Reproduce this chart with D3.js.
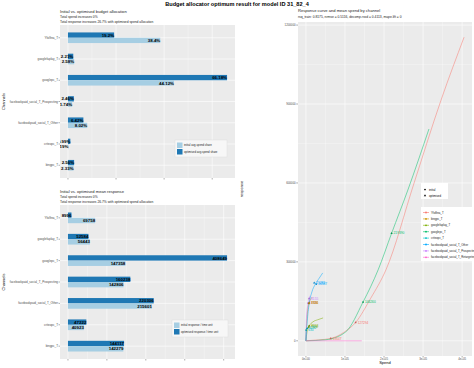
<!DOCTYPE html>
<html>
<head>
<meta charset="utf-8">
<script src="https://cdn.jsdelivr.net/npm/d3@7"></script>
<style>
  body { margin: 0; background: #fff; }
  text { font-family: "Liberation Sans", Arial, sans-serif; }
</style>
</head>
<body>
<svg id="chart" width="474" height="368"></svg>
<script>
// Channels of the two bar panels, top to bottom
var channels = ['Yfolfina_T', 'googlefaplay_T', 'googlepc_T', 'facebookpaid_social_T_Prospecting',
  'facebookpaid_social_T_Other', 'criteopc_T', 'bingpc_T'];
// Spend share (%)
var shareInitial = [38.4, 2.58, 44.12, 1.74, 8.02, 0.19, 2.33];
var shareOptimised = [19.2, 2.21, 66.18, 2.46, 6.42, 0.99, 2.56];
// Mean response per time unit
var respInitial = [69758, 56443, 147358, 142806, 215601, 40923, 142279];
var respOptimised = [8996, 52584, 408649, 160238, 220306, 47222, 144117];
// Mean spend per channel (response curve points)
var spendInitial = [127294, 8553, 146260, 5768, 26587, 630, 7724];
var spendOptimised = [63647, 7326, 219390, 8155, 21282, 3282, 8486];

// Response curve channels, legend order, and colours
var curveNames = ['Yfolfina_T', 'bingpc_T', 'googlefaplay_T', 'googlepc_T', 'criteopc_T',
  'facebookpaid_social_T_Other', 'facebookpaid_social_T_Prospecting', 'facebookpaid_social_T_Retargeting'];
var curveColors = ['#F8766D', '#CD9600', '#7CAE00', '#00BE67', '#00BFC4', '#00A9FF', '#C77CFF', '#FF61CC'];

// Response curves: [spend, response]
var curveYfolfina = [[0, 0], [33000, 3800], [63647, 8996], [97000, 32000], [127294, 69758], [166000, 162000],
  [205000, 270000], [277000, 600000], [346000, 915000], [405000, 1154000]];
var curveBingpc = [[0, 0], [1500, 52000], [3500, 100000], [7724, 142279], [12000, 158000], [16000, 166000]];
var curveGooglefaplay = [[0, 0], [2500, 30000], [8553, 56443], [18000, 72000], [30000, 80000], [44000, 87000]];
var curveGooglepc = [[0, 0], [51000, 4000], [102000, 34000], [146260, 147358], [185000, 270000],
  [219390, 408649], [261000, 573000], [315000, 805000]];
var curveCriteopc = [[0, 0], [300, 25000], [630, 40923], [3282, 47222], [6000, 50000]];
var curveOther = [[0, 0], [2600, 60000], [7700, 135000], [15400, 186000], [24000, 215000],
  [34000, 238000], [43000, 258000]];
var curveProspecting = [[0, 0], [1500, 90000], [5768, 142806], [8155, 160238], [11000, 172000]];
var curveRetargeting = [[0, 0], [143000, 0]];
var curves = [curveYfolfina, curveBingpc, curveGooglefaplay, curveGooglepc, curveCriteopc,
  curveOther, curveProspecting, curveRetargeting];

// Tick labels
var respTicks = [0, 300000, 600000, 900000, 1200000];
var spendTicks = [0, 100000, 200000, 300000, 400000];
var spendTickLabels = ['0e+00', '1e+05', '2e+05', '3e+05', '4e+05'];

var LIGHT = '#A6CEE3';
var DARK = '#1F78B4';
var PANEL = '#EBEBEB';

var svg = d3.select('#chart');
svg.append('rect').attr('width', 474).attr('height', 368).attr('fill', '#fff');

svg.append('text').attr('x', 237).attr('y', 6).attr('text-anchor', 'middle')
  .attr('font-size', 5.6).attr('font-weight', 'bold').text('Budget allocator optimum result for model ID 31_82_4');

// Expand a [min, max] domain by 5% like ggplot does
function expand(lo, hi) {
  var pad = (hi - lo) * 0.05;
  return [lo - pad, hi + pad];
}

/**
 * Draws one of the dodged bar panels on the left
 */
function barPanel(box, titles, valInit, valOpt, fmt, legendLabels, legendBox) {
  var g = svg.append('g');
  g.append('text').attr('x', box.x0).attr('y', box.y0 - 12).attr('font-size', 4.1).attr('fill', '#222').text(titles[0]);
  g.append('text').attr('x', box.x0).attr('y', box.y0 - 7).attr('font-size', 3.3).attr('fill', '#222').text(titles[1]);
  g.append('text').attr('x', box.x0).attr('y', box.y0 - 2.5).attr('font-size', 3.3).attr('fill', '#222').text(titles[2]);

  var x = d3.scaleLinear().domain(expand(0, d3.max(valInit.concat(valOpt)))).range([box.x0, box.x1]);
  var y = d3.scalePoint().domain(channels).range([box.y0, box.y1]).padding(0.6);
  var step = y.step();

  g.append('rect').attr('x', box.x0).attr('y', box.y0).attr('width', box.x1 - box.x0)
    .attr('height', box.y1 - box.y0).attr('fill', PANEL);

  var ticks = x.ticks(4);
  var tickStep = ticks[1] - ticks[0];
  var minor = ticks.map(function (t) { return t + tickStep / 2; })
    .filter(function (t) { return x(t) < box.x1; });
  g.selectAll('.minor').data(minor).enter().append('line')
    .attr('x1', x).attr('x2', x).attr('y1', box.y0).attr('y2', box.y1)
    .attr('stroke', '#fff').attr('stroke-width', 0.3);
  g.selectAll('.major').data(ticks).enter().append('line')
    .attr('x1', x).attr('x2', x).attr('y1', box.y0).attr('y2', box.y1)
    .attr('stroke', '#fff').attr('stroke-width', 0.6);
  g.selectAll('.hgrid').data(channels).enter().append('line')
    .attr('x1', box.x0).attr('x2', box.x1).attr('y1', y).attr('y2', y)
    .attr('stroke', '#fff').attr('stroke-width', 0.6);
  g.selectAll('.xtick').data(ticks).enter().append('line')
    .attr('x1', x).attr('x2', x).attr('y1', box.y1).attr('y2', box.y1 + 1.5)
    .attr('stroke', '#333').attr('stroke-width', 0.4);

  var clipId = 'clip' + box.y0;
  svg.append('clipPath').attr('id', clipId).append('rect')
    .attr('x', box.x0).attr('y', box.y0).attr('width', box.x1 - box.x0).attr('height', box.y1 - box.y0);
  var inner = g.append('g').attr('clip-path', 'url(#' + clipId + ')');

  var bh = step * 0.25;
  var rows = channels.map(function (c, i) { return { c: c, init: valInit[i], opt: valOpt[i] }; });

  inner.selectAll('.opt').data(rows).enter().append('rect')
    .attr('x', x(0)).attr('y', function (d) { return y(d.c) - bh; })
    .attr('width', function (d) { return x(d.opt) - x(0); }).attr('height', bh).attr('fill', DARK);
  inner.selectAll('.init').data(rows).enter().append('rect')
    .attr('x', x(0)).attr('y', function (d) { return y(d.c); })
    .attr('width', function (d) { return x(d.init) - x(0); }).attr('height', bh).attr('fill', LIGHT);

  inner.selectAll('.optlab').data(rows).enter().append('text')
    .attr('x', function (d) { return x(d.opt); }).attr('y', function (d) { return y(d.c) - bh / 2 + 1.6; })
    .attr('text-anchor', 'end').attr('font-size', 4.4).attr('font-weight', 'bold')
    .text(function (d) { return fmt(d.opt); });
  inner.selectAll('.initlab').data(rows).enter().append('text')
    .attr('x', function (d) { return x(d.init); }).attr('y', function (d) { return y(d.c) + bh / 2 + 1.6; })
    .attr('text-anchor', 'end').attr('font-size', 4.4).attr('font-weight', 'bold')
    .text(function (d) { return fmt(d.init); });

  g.selectAll('.ylab').data(channels).enter().append('text')
    .attr('x', box.x0 - 2).attr('y', function (d) { return y(d) + 1; })
    .attr('text-anchor', 'end').attr('font-size', 3).attr('fill', '#4D4D4D').text(function (d) { return d; });
  g.selectAll('.ytick').data(channels).enter().append('line')
    .attr('x1', box.x0 - 1.5).attr('x2', box.x0).attr('y1', y).attr('y2', y)
    .attr('stroke', '#333').attr('stroke-width', 0.4);

  g.append('text').attr('transform', 'translate(5,' + ((box.y0 + box.y1) / 2) + ') rotate(-90)')
    .attr('text-anchor', 'middle').attr('font-size', 4).text('Channels');

  // Legend
  var lg = g.append('g').attr('transform', 'translate(' + legendBox.x + ',' + legendBox.y + ')');
  lg.append('rect').attr('width', legendBox.w).attr('height', 17).attr('fill', '#F7F7F7')
    .attr('stroke', '#D9D9D9').attr('stroke-width', 0.4);
  [LIGHT, DARK].forEach(function (col, i) {
    lg.append('rect').attr('x', 2).attr('y', 2.5 + i * 6.5).attr('width', 5.5).attr('height', 5.5).attr('fill', col);
    lg.append('text').attr('x', 9).attr('y', 6.3 + i * 6.5).attr('font-size', 2.8).attr('fill', '#222')
      .text(legendLabels[i]);
  });
}

barPanel({ x0: 60, x1: 235, y0: 25, y1: 178 },
  ['Initial vs. optimised budget allocation', 'Total spend increases 0%',
    'Total response increases 26.7% with optimised spend allocation'],
  shareInitial, shareOptimised, function (v) { return v + '%'; },
  ['initial avg.spend share', 'optimised avg.spend share'], { x: 175, y: 140, w: 52 });

barPanel({ x0: 60, x1: 235, y0: 205, y1: 359 },
  ['Initial vs. optimised mean response', 'Total spend increases 0%',
    'Total response increases 26.7% with optimised spend allocation'],
  respInitial, respOptimised, function (v) { return String(v); },
  ['initial response / time unit', 'optimised response / time unit'], { x: 172, y: 320, w: 56 });

// Response curve panel
(function () {
  var box = { x0: 298, x1: 472, y0: 22, y1: 356 };
  var g = svg.append('g');
  g.append('text').attr('x', box.x0).attr('y', 12).attr('font-size', 4.1).attr('fill', '#222')
    .text('Response curve and mean spend by channel');
  g.append('text').attr('x', box.x0).attr('y', 17.5).attr('font-size', 3.3).attr('fill', '#222')
    .text('rsq_train: 0.8175, nrmse = 0.5116, decomp.rssd = 0.4113, mape.lift = 0');

  var allPts = d3.merge(curves);
  var x = d3.scaleLinear().domain(expand(0, d3.max(allPts, function (d) { return d[0]; }))).range([box.x0, box.x1]);
  var y = d3.scaleLinear().domain(expand(0, d3.max(allPts, function (d) { return d[1]; }))).range([box.y1, box.y0]);

  g.append('rect').attr('x', box.x0).attr('y', box.y0).attr('width', box.x1 - box.x0)
    .attr('height', box.y1 - box.y0).attr('fill', PANEL);

  var xMinor = spendTicks.map(function (t) { return t + 50000; }).filter(function (t) { return x(t) < box.x1; });
  xMinor.unshift(-50000);
  xMinor = xMinor.filter(function (t) { return x(t) > box.x0; });
  var yMinor = respTicks.map(function (t) { return t + 150000; }).filter(function (t) { return y(t) > box.y0; });

  g.selectAll('.vminor').data(xMinor).enter().append('line')
    .attr('x1', x).attr('x2', x).attr('y1', box.y0).attr('y2', box.y1).attr('stroke', '#fff').attr('stroke-width', 0.3);
  g.selectAll('.hminor').data(yMinor).enter().append('line')
    .attr('y1', y).attr('y2', y).attr('x1', box.x0).attr('x2', box.x1).attr('stroke', '#fff').attr('stroke-width', 0.3);
  g.selectAll('.vmajor').data(spendTicks).enter().append('line')
    .attr('x1', x).attr('x2', x).attr('y1', box.y0).attr('y2', box.y1).attr('stroke', '#fff').attr('stroke-width', 0.6);
  g.selectAll('.hmajor').data(respTicks).enter().append('line')
    .attr('y1', y).attr('y2', y).attr('x1', box.x0).attr('x2', box.x1).attr('stroke', '#fff').attr('stroke-width', 0.6);

  // Axes
  g.selectAll('.ylab').data(respTicks).enter().append('text')
    .attr('x', box.x0 - 2.5).attr('y', function (d) { return y(d) + 1; }).attr('text-anchor', 'end')
    .attr('font-size', 2.8).attr('fill', '#4D4D4D').text(function (d) { return d; });
  g.selectAll('.ytk').data(respTicks).enter().append('line')
    .attr('x1', box.x0 - 1.8).attr('x2', box.x0).attr('y1', y).attr('y2', y).attr('stroke', '#333').attr('stroke-width', 0.4);
  g.selectAll('.xlab').data(spendTicks).enter().append('text')
    .attr('x', x).attr('y', box.y1 + 4.2).attr('text-anchor', 'middle')
    .attr('font-size', 2.8).attr('fill', '#4D4D4D').text(function (d, i) { return spendTickLabels[i]; });
  g.selectAll('.xtk').data(spendTicks).enter().append('line')
    .attr('x1', x).attr('x2', x).attr('y1', box.y1).attr('y2', box.y1 + 1.5).attr('stroke', '#333').attr('stroke-width', 0.4);
  g.append('text').attr('x', (box.x0 + box.x1) / 2).attr('y', 364).attr('text-anchor', 'middle')
    .attr('font-size', 4).text('Spend');
  g.append('text').attr('transform', 'translate(243,' + ((box.y0 + box.y1) / 2) + ') rotate(-90)')
    .attr('text-anchor', 'middle').attr('font-size', 4).text('response');

  svg.append('clipPath').attr('id', 'clipR').append('rect')
    .attr('x', box.x0).attr('y', box.y0).attr('width', box.x1 - box.x0).attr('height', box.y1 - box.y0);
  var inner = g.append('g').attr('clip-path', 'url(#clipR)');

  var line = d3.line().x(function (d) { return x(d[0]); }).y(function (d) { return y(d[1]); }).curve(d3.curveMonotoneX);
  inner.selectAll('.curve').data(curves).enter().append('path')
    .attr('d', line).attr('fill', 'none').attr('stroke-width', 0.5)
    .attr('stroke', function (d, i) { return curveColors[i]; });

  var pts = [];
  channels.forEach(function (c, i) {
    var col = curveColors[curveNames.indexOf(c)];
    pts.push({ s: spendInitial[i], r: respInitial[i], col: col, shape: 'circle' });
    pts.push({ s: spendOptimised[i], r: respOptimised[i], col: col, shape: 'triangle' });
  });
  inner.selectAll('.pt').data(pts).enter().append('path')
    .attr('transform', function (d) { return 'translate(' + x(d.s) + ',' + y(d.r) + ')'; })
    .attr('d', function (d) {
      return d3.symbol().type(d.shape === 'circle' ? d3.symbolCircle : d3.symbolTriangle).size(2.4)();
    })
    .attr('fill', function (d) { return d3.color(d.col).darker(0.6); });
  inner.selectAll('.ptlab').data(pts).enter().append('text')
    .attr('x', function (d) { return x(d.s) + 2; }).attr('y', function (d) { return y(d.r) + 1.1; })
    .attr('font-size', 3.2).attr('fill', function (d) { return d.col; })
    .text(function (d) { return Math.round(d.s); });

  // Shape legend
  var l1 = g.append('g').attr('transform', 'translate(421,183)');
  l1.append('rect').attr('width', 27).attr('height', 16).attr('fill', '#fff');
  l1.append('path').attr('transform', 'translate(4,6.5)').attr('d', d3.symbol().type(d3.symbolCircle).size(2.4)());
  l1.append('path').attr('transform', 'translate(4,12.5)').attr('d', d3.symbol().type(d3.symbolTriangle).size(2.4)());
  l1.append('text').attr('x', 8).attr('y', 7.5).attr('font-size', 2.8).text('initial');
  l1.append('text').attr('x', 8).attr('y', 13.5).attr('font-size', 2.8).text('optimised');

  // Colour legend
  var l2 = g.append('g').attr('transform', 'translate(421,207)');
  l2.append('rect').attr('width', 60).attr('height', 54).attr('fill', '#fff');
  curveNames.forEach(function (n, i) {
    var yy = 5.5 + i * 6.4;
    l2.append('line').attr('x1', 2).attr('x2', 8).attr('y1', yy).attr('y2', yy)
      .attr('stroke', curveColors[i]).attr('stroke-width', 0.6);
    l2.append('circle').attr('cx', 5).attr('cy', yy).attr('r', 0.9).attr('fill', curveColors[i]);
    l2.append('text').attr('x', 10).attr('y', yy + 1).attr('font-size', 2.8).attr('fill', '#222').text(n);
  });
})();
</script>
</body>
</html>
